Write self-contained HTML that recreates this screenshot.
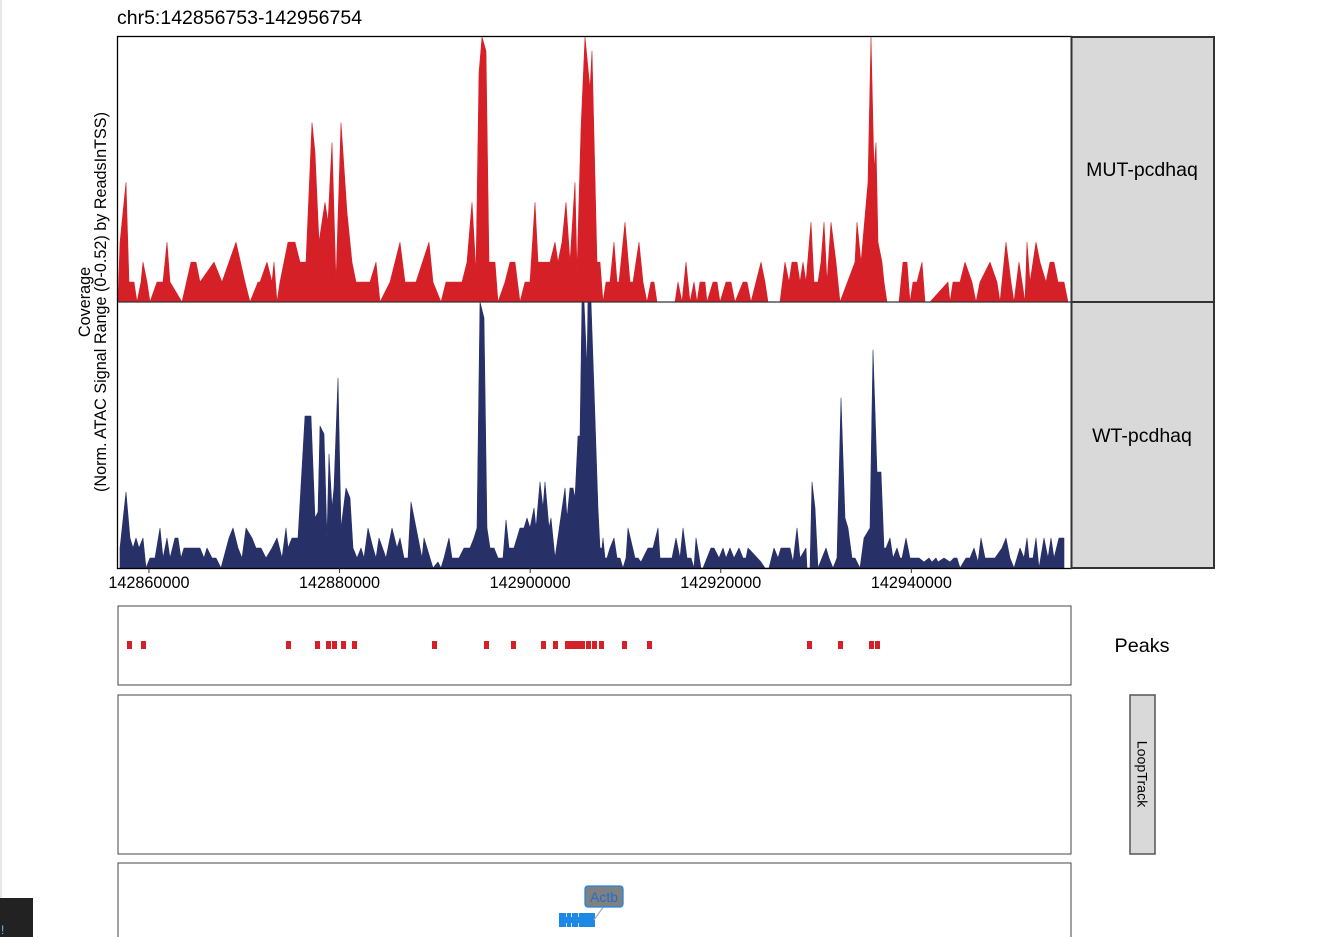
<!DOCTYPE html>
<html><head><meta charset="utf-8">
<style>
html,body{margin:0;padding:0;background:#fff;width:1328px;height:937px;overflow:hidden;font-family:"Liberation Sans",sans-serif;}
svg text{font-family:"Liberation Sans",sans-serif;}
</style></head>
<body>
<svg id="chart" width="1328" height="937" xmlns="http://www.w3.org/2000/svg">
  <line x1="1" y1="0" x2="1" y2="937" stroke="#d0d0d0" stroke-width="1"/>
  <text x="117" y="24" font-size="19.5" fill="#000">chr5:142856753-142956754</text>
  <g transform="translate(0,302) rotate(-90)">
    <text x="0" y="90" text-anchor="middle" font-size="16.2">Coverage</text>
    <text x="0" y="106" text-anchor="middle" font-size="16.2">(Norm. ATAC Signal Range (0-0.52) by ReadsInTSS)</text>
  </g>
  <g id="mutTrack"></g>
  <g id="wtTrack"></g>
  <rect x="117.5" y="36.5" width="954" height="532" fill="none" stroke="#000" stroke-width="1.3"/>
  <line x1="118" y1="302" x2="1071" y2="302" stroke="#333" stroke-width="1.3"/>
  <g id="xAxis"></g>
  <rect x="1071.5" y="37" width="142.5" height="265" fill="#d9d9d9" stroke="#333" stroke-width="2"/>
  <text x="1142" y="176" text-anchor="middle" font-size="19.5">MUT-pcdhaq</text>
  <rect x="1071.5" y="302" width="142.5" height="266" fill="#d9d9d9" stroke="#333" stroke-width="2"/>
  <text x="1142" y="442" text-anchor="middle" font-size="19.5">WT-pcdhaq</text>

  <rect x="118" y="606" width="953" height="79" fill="#fff" stroke="#444" stroke-width="1"/>
  <g id="peaksG"></g>
  <text x="1142" y="652" text-anchor="middle" font-size="19.8">Peaks</text>

  <rect x="118" y="695" width="953" height="159" fill="#fff" stroke="#444" stroke-width="1"/>
  <rect x="1130" y="695" width="25" height="159" fill="#d9d9d9" stroke="#555" stroke-width="1.5"/>
  <text transform="translate(1137.5,774) rotate(90)" text-anchor="middle" font-size="14.2">LoopTrack</text>

  <rect x="118" y="863" width="953" height="90" fill="#fff" stroke="#444" stroke-width="1"/>
  <g>
    <rect x="559" y="913" width="36" height="14" fill="#1e88e5"/>
    <rect x="566" y="913" width="1" height="14" fill="#cfe3fb"/>
    <rect x="571" y="913" width="1" height="14" fill="#cfe3fb"/>
    <rect x="578" y="913" width="1" height="14" fill="#cfe3fb"/>
    <rect x="559" y="917" width="36" height="6" fill="#1e88e5"/>
    <line x1="594" y1="920" x2="604" y2="906" stroke="#aaa" stroke-width="1.2"/>
    <rect x="585" y="886" width="38" height="21" rx="3" fill="#808080" stroke="#1e88e5" stroke-width="1.3"/>
    <text x="604" y="902" text-anchor="middle" font-size="14" fill="#1e6fd0">Actb</text>
  </g>
  <rect x="0" y="898" width="33" height="39" fill="#222"/>
  <text x="1" y="934" font-size="12" fill="#6fb6ff">!</text>
</svg>
<script>
// Region and binning (coverage bins of ~105 bp; bin index from region start)
const regionStart = 142856753;
const regionEnd = 142956754;
const binSize = (regionEnd - regionStart) / 953;
const yMaxUnits = 13.3; // signal range top (0.52 normalized)

const xTicks = [142860000, 142880000, 142900000, 142920000, 142940000];
const xTickLabels = ["142860000", "142880000", "142900000", "142920000", "142940000"];

// MUT coverage: bins and values
const mutBins = [0,2,8,11,16,19,23,25,29,32,39,45,49,52,64,73,78,82,96,104,111,118,127,132,140,142,149,154,156,159,162,170,177,182,188,194,197,201,207,210,214,218,223,229,234,238,244,252,258,262,272,277,282,287,298,311,315,323,328,332,339,344,349,354,358,361,364,368,371,377,380,387,392,397,402,407,412,417,420,427,432,437,440,444,448,452,457,459,463,467,472,474,479,482,485,488,492,496,499,501,507,512,515,521,525,529,533,536,539,557,560,564,568,572,576,579,582,587,589,595,599,602,608,613,617,625,629,633,643,647,650,662,667,671,674,676,679,682,685,688,693,696,700,703,706,709,713,718,722,737,739,743,750,753,756,758,760,764,766,769,781,785,789,792,795,799,804,807,812,830,832,835,842,847,854,858,862,872,879,882,884,888,893,896,901,907,909,912,918,922,928,932,936,940,944,946,950,952];
const mutVals = [0,3,6,1,1,0,1,2,1,0,1,1,3,1,0,2,2,1,2,1,2,3,1,0,1,1,2,1,2,0,1,3,3,2,2,9,7.5,3,5,4,8,1,9,4.5,2,1,1,1,2,0,1,2,3,1,1,3,1,0,1,1,1,1,2,5,1.5,11.5,13.3,12.6,2,2,0,1,2,2,0,1,1,5,2,2,2,3,2,3,5,2,6,1.5,8.7,13.3,10.7,12.6,2,2,0,1,1,3,1,1,4,1,1,3,1,0,1,1,0,0,1,0,2,0,1,0,1,1,0,1,1,0,1,1,0,1,1,0,2,1,0,0,2,1,2,2,2,1,2,1,4,1,1,2,4,1,4,2,0,2,4,2,6,13.3,6.6,8,3,2,1,0,0,2,2,0,1,1,2,0,0,1,0,1,1,2,1,0,1,2,1,0,1,3,1,0,2,0,3,1,3,2,1,2,2,1,1,1,0];

// WT coverage: bins and values
const wtBins = [2,8,12,15,18,21,25,28,32,37,42,45,49,52,57,60,63,66,70,74,78,82,86,89,94,98,103,111,115,120,124,128,134,138,143,148,154,159,164,168,170,174,180,187,193,197,200,202,206,209,211,214,216,220,223,228,232,235,239,243,246,250,255,258,261,268,270,274,279,282,286,290,293,304,306,312,315,320,323,326,331,334,341,346,352,356,359,362,366,369,372,376,380,385,388,391,396,399,402,406,409,412,416,418,422,425,427,431,433,437,447,449,452,455,457,460,462,464,466,469,470,473,476,478,480,482,484,485,487,489,492,496,499,502,505,508,510,517,520,523,530,535,540,542,546,550,554,558,562,565,569,573,576,578,583,585,593,596,601,605,608,612,616,621,625,628,630,643,647,651,656,660,663,666,672,675,679,682,688,689,692,694,697,700,704,708,711,715,719,723,727,730,734,737,742,746,752,755,759,763,766,768,772,775,779,782,784,788,792,795,798,801,806,811,814,818,820,826,832,836,839,842,848,852,856,860,863,867,871,874,877,884,888,892,896,902,906,909,911,915,918,921,926,930,933,936,941,946];
const wtVals = [1,3.8,1.5,1,1.5,1,1.5,0,0.5,0.5,2,0.5,1.5,0.5,1.5,1.5,0.5,1,1,1,1,1,0.5,1,0.5,0.5,0,1.5,2,1,0.5,2,1.5,1,1,0.5,1,1.5,0.5,2,1,1.5,1.5,7.6,7.6,2.5,2.8,7.1,6.7,1.5,5.7,3,4,9.5,2,4,3.5,1,0.5,1,0.5,2,1,0.5,1.5,0.5,1,2,1,1.5,0.5,0.5,3.3,0.5,1.5,0.5,0,0.3,0,0.5,1.5,0.5,0.5,1,1,1.5,2,13.3,12.5,2,1,1,0.5,0.5,2.4,1,1,1.5,2,2,2.5,2,3,2,4.3,3,4.3,2,2.5,0.5,4,2.5,4,4,3.5,6.6,6.6,13.3,13.3,10,13.3,13.3,9,6,3,1,1,1.5,0.5,0.5,1,1.5,0.5,0.5,0,0.5,2,0.5,0.5,0.3,1,1,2,0.5,0.5,0.5,0.5,1.5,0.5,2,0.5,0.5,0,1.5,0,0,1,1,0.5,1,0.5,1,0.5,1,0.5,0.5,1,0.3,0,0,1,0.5,1,1,1,0.3,2,0.5,1,0,0,4.3,3,0,0.5,1,0.5,0,0.5,8.5,2.5,2,0.5,0.5,0,1.5,2,10.9,4.8,4.8,1,1,1.5,0.5,1,0.5,0.5,1.5,0.5,0.5,0.5,0.5,0.3,0.5,0.3,0.5,0.3,0.5,0.3,0.5,0.5,0,0.5,0.5,1,0.3,1.5,0.5,0.5,0.5,0.5,1,1.5,0.5,0,1,0.5,1.5,0.5,0.5,1.5,0,1.5,0.5,1.5,0.5,1.5,1.5,0.5,1.5,1.5,0];

// Peak start bins
const peakBins = [9,23,168,197,208,214,223,234,314,366,393,423,435,447,452,457,462,468,474,481,504,529,689,720,751,757];
const peakWidthBins = 5;

const svgNS = "http://www.w3.org/2000/svg";
const plotLeft = 118, plotRight = 1071;
function xOfPos(pos){ return plotLeft + (pos - regionStart) / (regionEnd - regionStart) * (plotRight - plotLeft); }
function xOfBin(b){ return xOfPos(regionStart + b * binSize); }
function yScale(v, base, top){ const c = Math.min(v, yMaxUnits); return base - c / yMaxUnits * (base - top); }

function drawArea(gId, bins, vals, base, top, color, name){
  const g = document.getElementById(gId);
  let d = "M" + xOfBin(bins[0]).toFixed(2) + "," + base;
  for (let i = 0; i < bins.length; i++){
    d += " L" + xOfBin(bins[i]).toFixed(2) + "," + yScale(vals[i], base, top).toFixed(2);
  }
  d += " L" + xOfBin(bins[bins.length-1]).toFixed(2) + "," + base + " Z";
  const p = document.createElementNS(svgNS, "path");
  p.setAttribute("d", d);
  p.setAttribute("fill", color);
  p.setAttribute("stroke", color);
  p.setAttribute("stroke-width", "0.6");
  p.setAttribute("stroke-linejoin", "round");
  
  
  g.appendChild(p);
}
drawArea("mutTrack", mutBins, mutVals, 302, 37, "#d62028", "mut-coverage-area");
drawArea("wtTrack", wtBins, wtVals, 568, 302, "#283068", "wt-coverage-area");

// X axis
const xg = document.getElementById("xAxis");
xTicks.forEach((t, i) => {
  const x = xOfPos(t);
  const ln = document.createElementNS(svgNS, "line");
  ln.setAttribute("x1", x); ln.setAttribute("x2", x);
  ln.setAttribute("y1", 568); ln.setAttribute("y2", 573);
  ln.setAttribute("stroke", "#333"); ln.setAttribute("stroke-width", "1");
  
  
  xg.appendChild(ln);
  const tx = document.createElementNS(svgNS, "text");
  tx.setAttribute("x", x); tx.setAttribute("y", 588);
  tx.setAttribute("text-anchor", "middle"); tx.setAttribute("font-size", "16.2");
  tx.textContent = xTickLabels[i];
  
  
  xg.appendChild(tx);
});

// Peaks
const pg = document.getElementById("peaksG");
peakBins.forEach(b => {
  const r = document.createElementNS(svgNS, "rect");
  const x0 = xOfBin(b);
  r.setAttribute("x", x0.toFixed(2));
  r.setAttribute("y", 641);
  r.setAttribute("width", (xOfBin(b + peakWidthBins) - x0).toFixed(2));
  r.setAttribute("height", 8);
  r.setAttribute("fill", "#d62028");
  
  
  pg.appendChild(r);
});
</script>
</body></html>
